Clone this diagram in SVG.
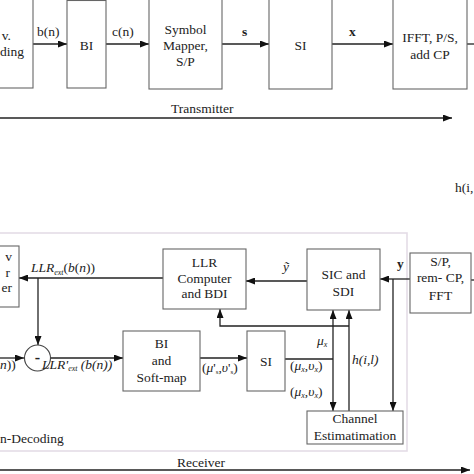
<svg xmlns="http://www.w3.org/2000/svg" width="474" height="474" viewBox="0 0 474 474">
<style>
.box{fill:#fff;stroke:#666;stroke-width:1.1}
.frame{fill:none;stroke:#e4dce6;stroke-width:1.6}
.ln{fill:none;stroke:#222;stroke-width:1.3}
.arr{fill:none;stroke:#222;stroke-width:1.3;marker-end:url(#ah)}
text{font-family:"Liberation Serif","Times New Roman",serif;fill:#222}
.t{font-size:13.5px;text-anchor:middle}
.l{font-size:13.5px}
.i{font-style:italic}
.b{font-weight:bold}
</style>
<defs>
<marker id="ah" markerWidth="9" markerHeight="7" refX="9" refY="3.5" orient="auto" markerUnits="userSpaceOnUse">
<path d="M0,0 L9,3.5 L0,7 z" fill="#111"/>
</marker>
</defs>
<rect width="474" height="474" fill="#fff"/>
<rect class="frame" x="-2" y="233" width="409" height="218"/>

<g id="connectors">
<path class="arr" d="M33,44 H67"/>
<path class="arr" d="M106,44 H149"/>
<path class="arr" d="M222,44 H269"/>
<path class="arr" d="M332,44 H393"/>
<path class="ln" d="M467,44 H474"/>
<path class="arr" d="M0,118 H452"/>
<path class="arr" d="M163,278 H19"/>
<path class="arr" d="M38,278 V345"/>
<path class="arr" d="M0,358 H24"/>
<path class="arr" d="M51,358 H123"/>
<path class="arr" d="M200,358 H247"/>
<path class="ln" d="M285,359 H333"/>
<path class="arr" d="M333,359 V310"/>
<path class="arr" d="M333,359 V411"/>
<path class="arr" d="M349,411 V310"/>
<path class="arr" d="M349,326 H220 V309"/>
<path class="arr" d="M307,281 H246"/>
<path class="arr" d="M410,279 H380"/>
<path class="arr" d="M393,279 V411"/>
<path class="ln" d="M471,280 H474"/>
<path class="arr" d="M0,470 H470"/>
</g>

<g id="enc">
<rect class="box" x="-5" y="-2" width="38" height="90"/>
<text class="l" x="11" y="40" text-anchor="end">v.</text>
<text class="l" x="0" y="56">ding</text>
</g>
<g id="bi-top">
<rect class="box" x="67" y="0.5" width="39" height="87.5"/>
<text class="t" x="86.5" y="50">BI</text>
</g>
<g id="mapper">
<rect class="box" x="149" y="-2" width="73" height="91"/>
<text class="t" x="185.5" y="34">Symbol</text>
<text class="t" x="185.5" y="50">Mapper,</text>
<text class="t" x="185.5" y="66">S/P</text>
</g>
<g id="si-top">
<rect class="box" x="269" y="-2" width="63" height="91"/>
<text class="t" x="300.5" y="50">SI</text>
</g>
<g id="ifft">
<rect class="box" x="393" y="-2" width="74" height="91"/>
<text class="t" x="430" y="42">IFFT, P/S,</text>
<text class="t" x="430" y="59">add CP</text>
</g>

<g id="top-labels">
<text class="l" x="37" y="36">b(n)</text>
<text class="l" x="112" y="36">c(n)</text>
<text class="l b" x="242" y="36" font-size="12">s</text>
<text class="l b" x="349" y="36" font-size="12">x</text>
<text class="l" x="171" y="113">Transmitter</text>
<text class="l" x="455" y="192">h(i,</text>
</g>

<g id="dec">
<rect class="box" x="-5" y="246" width="24" height="61"/>
<text class="l" x="12" y="261" text-anchor="end" font-size="10">v</text>
<text class="l" x="10" y="277" text-anchor="end" font-size="10">r</text>
<text class="l" x="12" y="292" text-anchor="end">er</text>
</g>
<g id="llr">
<rect class="box" x="163" y="249" width="83" height="60"/>
<text class="t" x="204.5" y="267">LLR</text>
<text class="t" x="204.5" y="283">Computer</text>
<text class="t" x="204.5" y="298">and BDI</text>
</g>
<g id="sic">
<rect class="box" x="307" y="249" width="73" height="61"/>
<text class="t" x="343.5" y="279">SIC and</text>
<text class="t" x="343.5" y="296">SDI</text>
</g>
<g id="sp">
<rect class="box" x="410" y="253" width="61" height="60"/>
<text class="t" x="440.5" y="266">S/P,</text>
<text class="t" x="440.5" y="282">rem- CP,</text>
<text class="t" x="440.5" y="300">FFT</text>
</g>
<g id="minus">
<circle cx="37.5" cy="358" r="13" fill="#fff" stroke="#444" stroke-width="1.1"/>
<text x="37.5" y="363" text-anchor="middle" font-size="16" font-weight="bold">-</text>
</g>
<g id="bisoft">
<rect class="box" x="123" y="331" width="77" height="60"/>
<text class="t" x="161.5" y="348">BI</text>
<text class="t" x="161.5" y="365">and</text>
<text class="t" x="161.5" y="382">Soft-map</text>
</g>
<g id="si-bot">
<rect class="box" x="247" y="331" width="38" height="60"/>
<text class="t" x="266" y="366">SI</text>
</g>
<g id="chest">
<rect class="box" x="307" y="411" width="96" height="33"/>
<text class="t" x="355" y="423">Channel</text>
<text class="t" x="355" y="440">Estimatimation</text>
</g>

<g id="bottom-labels">
<text class="l i" x="31" y="272" font-size="13">LLR<tspan font-size="8" dy="3">ext</tspan><tspan dy="-3" font-style="normal">(</tspan>b<tspan font-style="normal">(</tspan>n<tspan font-style="normal">))</tspan></text>
<text class="l i" x="0" y="369" font-size="13">n<tspan font-style="normal">))</tspan></text>
<text class="l i" x="42" y="369" font-size="13">LLR'<tspan font-size="8" dy="2">ext</tspan><tspan dy="-2"> (b(n))</tspan></text>
<text class="l" x="202" y="372" font-size="12">(<tspan class="i">μ</tspan>'<tspan font-size="7" dy="2">s</tspan><tspan dy="-2">,</tspan><tspan class="i">υ</tspan>'<tspan font-size="7" dy="2">s</tspan><tspan dy="-2">)</tspan></text>
<text class="l i" x="283" y="271" font-size="13">ỹ</text>
<text class="l b" x="397" y="268" font-size="13">y</text>
<text class="l i" x="317" y="345" font-size="11">μ<tspan font-size="8" dy="2">x</tspan></text>
<text class="l" x="290" y="370" font-size="12">(<tspan class="i">μ</tspan><tspan class="i" font-size="8" dy="2">x</tspan><tspan dy="-2">,</tspan><tspan class="i">υ</tspan><tspan class="i" font-size="8" dy="2">x</tspan><tspan dy="-2">)</tspan></text>
<text class="l" x="290" y="396" font-size="12">(<tspan class="i">μ</tspan><tspan class="i" font-size="8" dy="2">x</tspan><tspan dy="-2">,</tspan><tspan class="i">υ</tspan><tspan class="i" font-size="8" dy="2">x</tspan><tspan dy="-2">)</tspan></text>
<text class="l i" x="352" y="364" font-size="15">h(i,l)</text>
<text class="l" x="0" y="443">n-Decoding</text>
<text class="l" x="177" y="467">Receiver</text>
</g>
</svg>
